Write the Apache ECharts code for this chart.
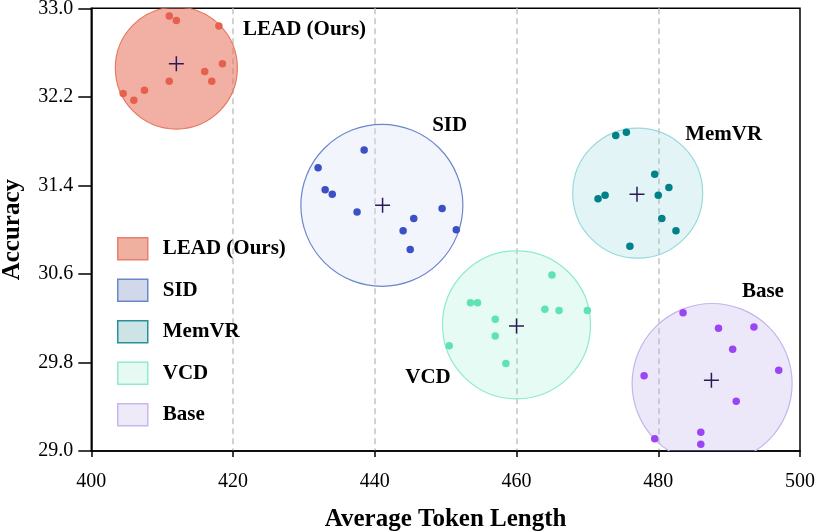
<!DOCTYPE html>
<html>
<head>
<meta charset="utf-8">
<script src="https://cdn.jsdelivr.net/npm/echarts@6/dist/echarts.min.js"></script>
<style>
html,body{margin:0;padding:0;background:#fff;}
#chart{width:818px;height:532px;}
</style>
</head>
<body>
<div id="chart"></div>
<script>
// ---- data ----
const groups = ['LEAD (Ours)', 'SID', 'MemVR', 'VCD', 'Base'];

const leadX = [411.0, 412.0, 418.0, 418.5, 416.0, 417.0, 411.0, 407.5, 404.5, 406.0];
const leadY = [32.93, 32.89, 32.84, 32.50, 32.43, 32.34, 32.34, 32.26, 32.23, 32.17];

const sidX = [438.5, 432.0, 433.0, 434.0, 437.5, 449.5, 445.5, 444.0, 451.5, 445.0];
const sidY = [31.72, 31.56, 31.36, 31.32, 31.16, 31.19, 31.10, 30.99, 31.00, 30.82];

const memvrX = [474.0, 475.5, 479.5, 481.5, 480.0, 472.5, 471.5, 480.5, 482.5, 476.0];
const memvrY = [31.85, 31.88, 31.50, 31.38, 31.31, 31.31, 31.28, 31.10, 30.99, 30.85];

const vcdX = [465.0, 453.5, 454.5, 464.0, 466.0, 470.0, 457.0, 457.0, 450.5, 458.5];
const vcdY = [30.59, 30.34, 30.34, 30.28, 30.27, 30.27, 30.19, 30.04, 29.95, 29.79];

const baseX = [483.5, 488.5, 493.5, 490.5, 478.0, 497.0, 491.0, 486.0, 486.0, 479.5];
const baseY = [30.25, 30.11, 30.12, 29.92, 29.68, 29.73, 29.45, 29.17, 29.06, 29.11];

// centroid (+) markers
const centroidX = [412.0, 441.1, 477.0, 460.0, 487.5];
const centroidY = [32.50, 31.22, 31.32, 30.13, 29.64];

// circle centres
const circleX = [412.0, 441.0, 477.1, 460.0, 487.6];
const circleY = [32.46, 31.22, 31.33, 30.14, 29.61];

// axis ticks
const xTicks = [400, 420, 440, 460, 480, 500];
const yTicks = ['29.0', '29.8', '30.6', '31.4', '32.2', '33.0'];

// ---- styles ----
const pointColors = ['#e5604d', '#3b50c4', '#00818a', '#5fe3b3', '#9b45f5'];
const circleFill = ['rgba(232,112,90,0.55)', 'rgba(220,226,245,0.35)', 'rgba(150,214,220,0.28)', 'rgba(130,235,195,0.2)', 'rgba(195,180,235,0.3)'];
const circleStroke = ['#e8785f', '#6a86cc', '#98d9dd', '#8eecc9', '#c4b5ea'];
const circleRadius = [61, 81, 65, 74, 80];
const legendFill = ['#f0b0a0', '#d0d8ea', '#cde4e6', '#e6faf3', '#efeaf8'];
const legendStroke = ['#e88070', '#6a86cc', '#2a9098', '#8eecc9', '#c8b8ee'];
const labelAnchor = [[421.4, 32.81], [448.1, 31.94], [483.8, 31.86], [444.3, 29.66], [491.8, 30.44]];

const xs = [leadX, sidX, memvrX, vcdX, baseX];
const ys = [leadY, sidY, memvrY, vcdY, baseY];

const serif = "'Liberation Serif', 'Times New Roman', 'DejaVu Serif', serif";

const series = [];
groups.forEach((g, i) => {
  series.push({
    name: g,
    type: 'custom',
    clip: true,
    z: 1,
    data: [[circleX[i], circleY[i]]],
    renderItem: function (params, api) {
      const p = api.coord([api.value(0), api.value(1)]);
      return {
        type: 'circle',
        shape: { cx: p[0], cy: p[1], r: circleRadius[i] },
        style: { fill: circleFill[i], stroke: circleStroke[i], lineWidth: 1.2 }
      };
    },
    silent: true
  });
});
groups.forEach((g, i) => {
  series.push({
    name: g,
    type: 'scatter',
    z: 3,
    symbol: 'circle',
    symbolSize: 7.5,
    itemStyle: { color: pointColors[i], opacity: 1 },
    data: xs[i].map((x, k) => [x, ys[i][k]]),
    silent: true
  });
});
series.push({
  name: 'centroid',
  type: 'scatter',
  z: 4,
  symbol: 'path://M-0.1,-1 L0.1,-1 L0.1,-0.1 L1,-0.1 L1,0.1 L0.1,0.1 L0.1,1 L-0.1,1 L-0.1,0.1 L-1,0.1 L-1,-0.1 L-0.1,-0.1 Z',
  symbolSize: 15,
  itemStyle: { color: '#2b1a5a', opacity: 1 },
  data: centroidX.map((x, k) => [x, centroidY[k]]),
  silent: true
});
series.push({
  name: 'labels',
  type: 'scatter',
  z: 5,
  symbolSize: 0,
  silent: true,
  clip: false,
  itemStyle: { opacity: 1 },
  data: groups.map((g, i) => ({ value: labelAnchor[i], name: g })),
  label: {
    show: true,
    position: 'right',
    distance: 0,
    formatter: p => p.name,
    fontFamily: serif,
    fontWeight: 'bold',
    fontSize: 21,
    color: '#000',
    opacity: 1
  }
});

const chart = echarts.init(document.getElementById('chart'), null, { renderer: 'canvas' });
chart.setOption({
  animation: false,
  backgroundColor: '#fff',
  grid: {
    left: 91.3, right: 18, top: 8.3, bottom: 81,
    outerBoundsMode: 'none',
    containLabel: false,
    show: true, borderColor: '#000', borderWidth: 1.5, backgroundColor: 'transparent'
  },
  legend: {
    orient: 'vertical',
    left: 112,
    top: 232,
    itemWidth: 30,
    itemHeight: 22,
    itemGap: 18,
    icon: 'rect',
    selectedMode: false,
    textStyle: { fontFamily: serif, fontWeight: 'bold', fontSize: 21, color: '#000', padding: [0, 0, 0, 10] },
    data: groups.map((g, i) => ({
      name: g,
      icon: 'rect',
      itemStyle: { color: legendFill[i], borderColor: legendStroke[i], borderWidth: 1.5 }
    }))
  },
  xAxis: {
    type: 'value',
    min: xTicks[0],
    max: xTicks[xTicks.length - 1],
    interval: xTicks[1] - xTicks[0],
    name: 'Average Token Length',
    nameLocation: 'middle',
    nameGap: 56,
    nameTextStyle: { fontFamily: serif, fontWeight: 'bold', fontSize: 25, color: '#000' },
    axisLine: { show: true, lineStyle: { color: '#000', width: 1.5 } },
    axisTick: { show: true, length: 6, lineStyle: { color: '#000', width: 1.5 } },
    axisLabel: { fontFamily: serif, fontSize: 20, color: '#000', margin: 21 },
    splitLine: { show: true, showMinLine: false, showMaxLine: false, lineStyle: { color: '#c4c4c4', type: [6, 4], width: 1.5 } }
  },
  yAxis: {
    type: 'value',
    min: Number(yTicks[0]),
    max: Number(yTicks[yTicks.length - 1]),
    interval: Number(yTicks[1]) - Number(yTicks[0]),
    name: 'Accuracy',
    nameLocation: 'middle',
    nameGap: 66,
    nameTextStyle: { fontFamily: serif, fontWeight: 'bold', fontSize: 25, color: '#000' },
    axisLine: { show: true, lineStyle: { color: '#000', width: 1.5 } },
    axisTick: { show: true, length: 13, lineStyle: { color: '#000', width: 1.5 } },
    axisLabel: {
      fontFamily: serif, fontSize: 20, color: '#000', margin: 18,
      formatter: v => yTicks.find(t => Math.abs(Number(t) - v) < 1e-6) || v.toFixed(1)
    },
    splitLine: { show: false }
  },
  series: series
});
</script>
</body>
</html>
